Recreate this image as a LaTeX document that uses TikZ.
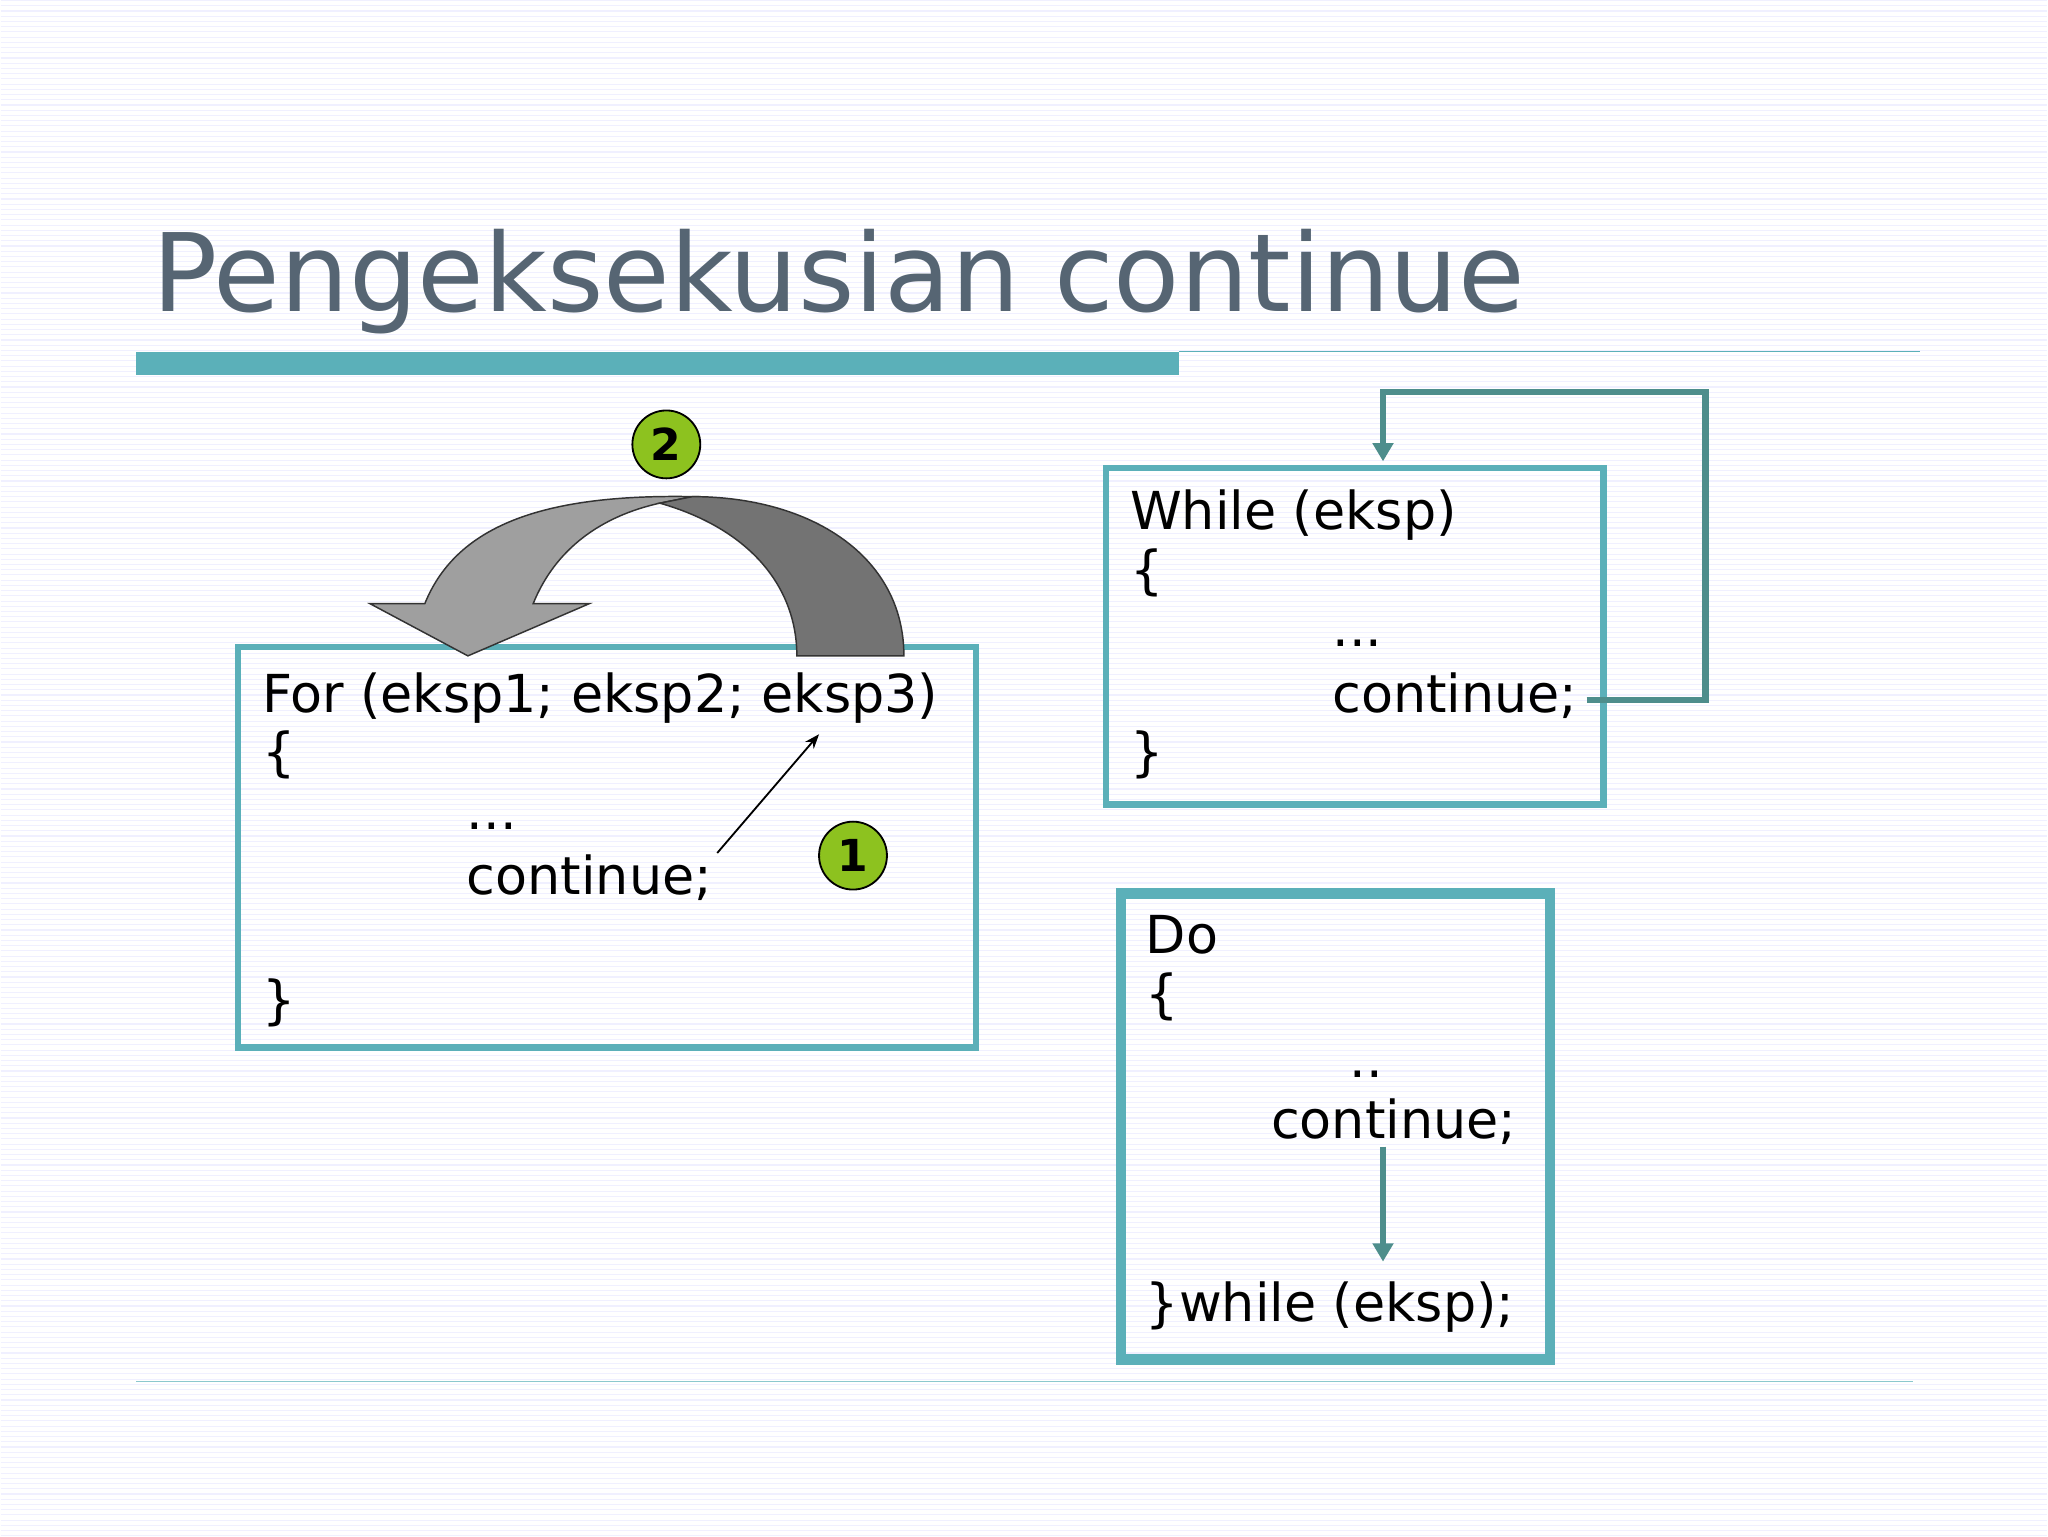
\documentclass[tikz,border=0pt]{standalone}
\usepackage{fontspec}
\setmainfont{DejaVu Sans}
\usetikzlibrary{arrows.meta}
\definecolor{teal1}{HTML}{5BB0B9}
\definecolor{loopc}{HTML}{4E8E8C}
\definecolor{titlec}{HTML}{566573}
\definecolor{greenc}{HTML}{8DC21F}
\tikzset{
  px/.style={x=0.025cm,y=-0.025cm},
  code/.style={anchor=base west,inner sep=0pt,font=\fontsize{28.5}{32}\selectfont},
  badge/.style={circle,draw=black,line width=1pt,fill=greenc,minimum size=1.3cm,inner sep=0pt,font=\fontsize{24}{28}\selectfont\bfseries},
  boxl/.style={draw=teal1,line width=3.5pt},
  looparrow/.style={draw=loopc,line width=3.5pt,-{Triangle[length=10pt,width=11pt]}}
}
\begin{document}
\begin{tikzpicture}[px]
\fill[white] (0,0) rectangle (1568,1176);
\foreach \y in {0,4,...,1176} \draw[color=blue!6,line width=0.6pt] (0,\y) -- (1568,\y);
\useasboundingbox (0,0) rectangle (1568,1176);
\node[anchor=base west,inner sep=0pt,text=titlec,font=\fontsize{59}{70}\selectfont] (title) at (116,238) {Pengeksekusian continue};
\fill[teal1] (104,269) rectangle (903,287);
\draw[teal1,line width=0.8pt] (903,269) -- (1470,269);
\draw[teal1!70,line width=0.8pt] (104,1058) -- (1465,1058);
% For box
\draw[boxl] (182,495) rectangle (747,802);
\node[code] (f1) at (200,545) {For (eksp1; eksp2; eksp3)};
\node[code] (f2) at (200,590) {\{};
\node[code] (f3) at (357,635) {...};
\node[code] (f4) at (357,685) {continue;};
\node[code] (f5) at (200,780) {\}};
\coordinate (a1) at (549,653);
\coordinate (a2) at (627,562);
\draw[-{Stealth[length=8pt]},line width=1pt] (a1) -- (a2);
\node[badge] (b1) at (653,655) {1};
\node[badge] (b2) at (510,340) {2};
% curved arrow
\filldraw[fill=gray!75,draw=black!80,line width=0.8pt] (283,462) -- (358,502) -- (451,462) -- (408,462)
  .. controls (425,420) and (460,395) .. (505,385) -- (530,380)
  .. controls (420,378) and (350,400) .. (325,462) -- cycle;
\filldraw[fill=black!55,draw=black!80,line width=0.8pt] (505,385) .. controls (575,405) and (610,450) .. (610,502)
  -- (692,502) .. controls (692,425) and (620,380) .. (530,380) -- cycle;
% While box
\draw[boxl] (847,358) rectangle (1228,616);
\node[code] (w1) at (865,405) {While (eksp)};
\node[code] (w2) at (865,450) {\{};
\node[code] (w3) at (1020,495) {...};
\node[code] (w4) at (1020,545) {continue;};
\node[code] (w5) at (865,590) {\}};
\coordinate (l0) at (1215,536);
\coordinate (l1) at (1306,536);
\coordinate (l2) at (1306,300);
\coordinate (l3) at (1059,300);
\coordinate (l4) at (1059,353);
\draw[looparrow] (l0) -- (l1) -- (l2) -- (l3) -- (l4);
% Do box
\draw[draw=teal1,line width=5.5pt] (858,684) rectangle (1187,1041);
\node[code] (d1) at (877,730) {Do};
\node[code] (d2) at (877,775) {\{};
\node[code] (d3) at (1033,825) {..};
\node[code] (d4) at (973,872) {continue;};
\node[code] (d5) at (877,1012) {\}while (eksp);};
\coordinate (e1) at (1059,878);
\coordinate (e2) at (1059,966);
\draw[looparrow] (e1) -- (e2);
\end{tikzpicture}
\end{document}
